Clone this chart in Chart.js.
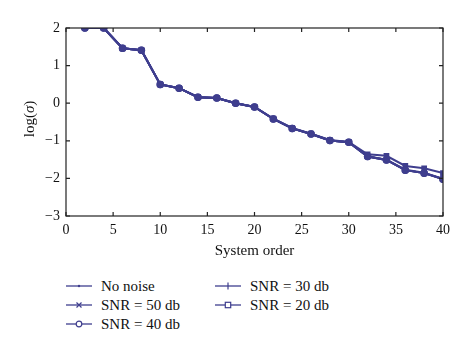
<!DOCTYPE html>
<html>
<head>
<meta charset="utf-8">
<script src="https://cdn.jsdelivr.net/npm/chart.js@4"></script>
<style>
  body { margin:0; background:#fff; font-family:"Liberation Serif","DejaVu Serif",serif; }
  #wrap { position:relative; width:474px; height:352px; }
  #c { position:absolute; left:0; top:0; }
  .lg { position:absolute; font-size:15px; color:#111; display:flex; align-items:center; white-space:nowrap; }
  .lg svg { margin-right:9px; }
</style>
</head>
<body>
<div id="wrap">
  <canvas id="c" width="474" height="264"></canvas>
  <div id="legend"></div>
</div>
<script>
// ---- data ----
const ORDERS = [2,4,6,8,10,12,14,16,18,20,22,24,26,28,30,32,34,36,38,40];
const NO_NOISE = [2.0,2.0,1.46,1.41,0.50,0.40,0.16,0.14,0.0,-0.10,-0.42,-0.67,-0.82,-0.99,-1.04,-1.42,-1.51,-1.78,-1.86,-2.02];
const SNR50 =    [2.0,2.0,1.46,1.41,0.50,0.40,0.16,0.14,0.0,-0.10,-0.42,-0.67,-0.82,-0.99,-1.04,-1.42,-1.51,-1.78,-1.86,-2.02];
const SNR40 =    [2.0,2.0,1.46,1.41,0.50,0.40,0.16,0.14,0.0,-0.10,-0.42,-0.67,-0.82,-0.99,-1.04,-1.42,-1.51,-1.78,-1.86,-2.02];
const SNR30 =    [2.0,2.0,1.46,1.41,0.50,0.40,0.16,0.14,0.0,-0.10,-0.42,-0.67,-0.82,-0.99,-1.04,-1.41,-1.50,-1.77,-1.85,-2.01];
const SNR20 =    [2.0,2.0,1.46,1.41,0.50,0.40,0.16,0.14,0.0,-0.10,-0.41,-0.66,-0.81,-0.98,-1.03,-1.36,-1.40,-1.67,-1.73,-1.86];
const LABELS = ['No noise','SNR = 50 db','SNR = 40 db','SNR = 30 db','SNR = 20 db'];
const X_TICKS = [0,5,10,15,20,25,30,35,40];
const Y_TICKS = [-3,-2,-1,0,1,2];

const LINE = '#3f3e8e';
const FONT = '"Liberation Serif","DejaVu Serif",serif';
const pts = arr => ORDERS.map((x,i) => ({x, y:arr[i]}));
const minus = v => String(v).replace('-', '\u2212');

function ds(label, arr, style, r) {
  return { label, data: pts(arr), borderColor: LINE, backgroundColor: LINE, borderWidth: 2,
    pointStyle: style, pointRadius: r, pointBorderWidth: 1.5, pointHoverRadius: r, tension: 0 };
}

// inward ticks + full frame, like the matlab box; y title with italic sigma
const boxTicks = {
  id: 'boxTicks',
  afterDraw(chart) {
    const { ctx, chartArea: a, scales: { x, y } } = chart;
    ctx.save();
    ctx.strokeStyle = '#222'; ctx.lineWidth = 1.2;
    ctx.strokeRect(a.left, a.top, a.right - a.left, a.bottom - a.top);
    ctx.beginPath();
    X_TICKS.forEach(v => {
      const px = x.getPixelForValue(v);
      ctx.moveTo(px, a.bottom); ctx.lineTo(px, a.bottom - 4);
      ctx.moveTo(px, a.top); ctx.lineTo(px, a.top + 4);
    });
    Y_TICKS.forEach(v => {
      const py = y.getPixelForValue(v);
      ctx.moveTo(a.left, py); ctx.lineTo(a.left + 4, py);
      ctx.moveTo(a.right, py); ctx.lineTo(a.right - 4, py);
    });
    ctx.stroke();

    const parts = [['log(', 'normal'], ['σ', 'italic'], [')', 'normal']];
    let w = 0;
    parts.forEach(p => { ctx.font = p[1] + ' 15px ' + FONT; w += ctx.measureText(p[0]).width; });
    ctx.translate(30, (a.top + a.bottom) / 2 - 3);
    ctx.rotate(-Math.PI / 2);
    ctx.fillStyle = '#111'; ctx.textBaseline = 'middle'; ctx.textAlign = 'left';
    let cx = -w / 2;
    parts.forEach(p => { ctx.font = p[1] + ' 15px ' + FONT; ctx.fillText(p[0], cx, 0); cx += ctx.measureText(p[0]).width; });
    ctx.restore();
  }
};

new Chart(document.getElementById('c'), {
  type: 'line',
  data: { datasets: [
    ds(LABELS[0], NO_NOISE, 'circle', 3),
    ds(LABELS[1], SNR50, 'crossRot', 3),
    ds(LABELS[2], SNR40, 'circle', 3),
    ds(LABELS[3], SNR30, 'cross', 3),
    ds(LABELS[4], SNR20, 'rect', 3)
  ]},
  options: {
    responsive: false, animation: false, devicePixelRatio: 1,
    layout: { padding: { top: 28, right: 31, left: 0, bottom: 0 } },
    plugins: { legend: { display: false }, tooltip: { enabled: false } },
    scales: {
      x: { type: 'linear', min: 0, max: 40,
        afterBuildTicks: s => { s.ticks = X_TICKS.map(v => ({ value: v })); },
        afterFit: s => { s.height = 48; },
        grid: { display: false, drawTicks: false }, border: { display: false },
        ticks: { color: '#111', padding: 6, font: { family: FONT, size: 14 }, maxRotation: 0 },
        title: { display: true, text: 'System order', color: '#111', font: { family: FONT, size: 15 }, padding: { top: 2 } } },
      y: { min: -3, max: 2,
        afterBuildTicks: s => { s.ticks = Y_TICKS.map(v => ({ value: v })); },
        afterFit: s => { s.width = 66; },
        grid: { display: false, drawTicks: false }, border: { display: false },
        ticks: { color: '#111', padding: 6, font: { family: FONT, size: 14 }, callback: v => minus(v) },
        title: { display: false } }
    }
  },
  plugins: [boxTicks]
});

// ---- legend (two columns, column-first like the figure) ----
const MARKS = {
  'circle': '<circle cx="13" cy="6" r="1.2" fill="'+LINE+'"/>',
  'crossRot': '<path d="M10.5 3.5l5 5M15.5 3.5l-5 5" stroke="'+LINE+'" stroke-width="1.2"/>',
  'ring': '<circle cx="13" cy="6" r="2.8" fill="#fff" stroke="'+LINE+'" stroke-width="1.2"/>',
  'cross': '<path d="M13 2.5v7" stroke="'+LINE+'" stroke-width="1.2"/>',
  'rect': '<rect x="10.3" y="3.3" width="5.4" height="5.4" fill="#fff" stroke="'+LINE+'" stroke-width="1.2"/>'
};
const LEG_MARK = ['circle','crossRot','ring','cross','rect'];
const LEG_POS = [[66,286],[66,305],[66,324],[215,286],[215,305]];
const leg = document.getElementById('legend');
LABELS.forEach((t, i) => {
  const d = document.createElement('div');
  d.className = 'lg';
  d.style.left = LEG_POS[i][0] + 'px';
  d.style.top = (LEG_POS[i][1] - 10) + 'px';
  d.style.height = '20px';
  d.innerHTML = '<svg width="26" height="12"><line x1="0" y1="6" x2="26" y2="6" stroke="'+LINE+'" stroke-width="1.3"/>' + MARKS[LEG_MARK[i]] + '</svg>' + t;
  leg.appendChild(d);
});
</script>
</body>
</html>
